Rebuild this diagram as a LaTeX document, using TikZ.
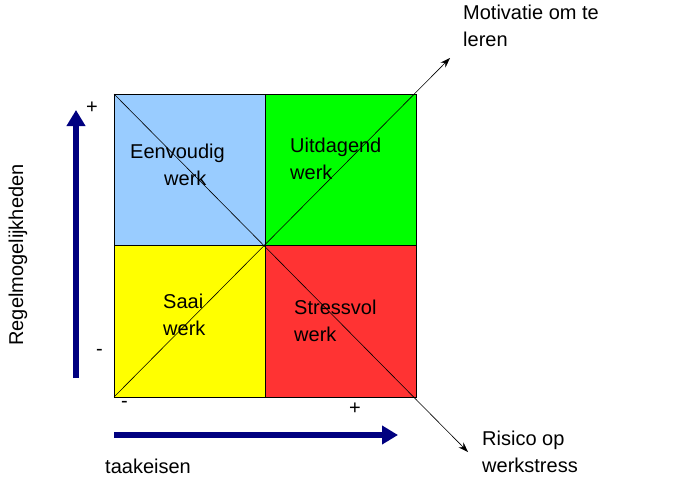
\documentclass[tikz,border=0pt]{standalone}
\usepackage{fontspec}
\setmainfont{Liberation Sans}
\usetikzlibrary{arrows.meta}
\begin{document}
\begin{tikzpicture}[x=1pt,y=-1pt,
  lbl/.style={font=\fontsize{20}{27}\selectfont,align=left,inner sep=0pt,anchor=north west},
  quad/.style={draw=black,line width=0.6pt}]
\useasboundingbox (0,0) rectangle (680,501);
\definecolor{qb}{RGB}{153,204,255}\definecolor{qg}{RGB}{0,255,0}
\definecolor{qy}{RGB}{255,255,0}\definecolor{qr}{RGB}{255,51,51}
\definecolor{navy}{RGB}{0,0,128}
\fill[qb] (114,94) rectangle (265,245);
\fill[qg] (265,94) rectangle (416,245);
\fill[qy] (114,245) rectangle (265,397);
\fill[qr] (265,245) rectangle (416,397);
\draw[quad] (114,94) rectangle (416,397);
\draw[quad] (265,94) -- (265,397) (114,245) -- (416,245);
\coordinate (bl) at (114,397); \coordinate (tr) at (450,58);
\coordinate (tl) at (114,94); \coordinate (br) at (468,452);
\draw[line width=0.6pt,-{Stealth[length=10pt,width=7pt]}] (bl) -- (tr);
\draw[line width=0.6pt,-{Stealth[length=10pt,width=7pt]}] (tl) -- (br);
\coordinate (vb) at (76,378); \coordinate (vt) at (76,110);
\coordinate (hl) at (114,435); \coordinate (hr) at (398,435);
\draw[line width=6pt,draw=navy,-{Triangle[length=16pt,width=18pt]}] (vb) -- (vt);
\draw[line width=6pt,draw=navy,-{Triangle[length=16pt,width=18pt]}] (hl) -- (hr);
\node[lbl] (p1) at (86,102) {+};
\node[lbl] (m1) at (96,349) {-};
\node[lbl] (m2) at (121,401) {-};
\node[lbl] (p2) at (349,403) {+};
\node[font=\fontsize{20}{27}\selectfont,rotate=90,inner sep=0pt] (ry) at (18,255) {Regelmogelijkheden};
\node[lbl] (tx) at (105,459) {taakeisen};
\node[lbl] (mo) at (463,5) {Motivatie om te\\leren};
\node[lbl] (ri) at (482,431) {Risico op\\werkstress};
\node[lbl] (q1) at (130,144) {Eenvoudig\\\hspace*{34pt}werk};
\node[lbl] (q2) at (290,138) {Uitdagend\\werk};
\node[lbl] (q3) at (163,294) {Saai\\werk};
\node[lbl] (q4) at (294,300) {Stressvol\\werk};
\end{tikzpicture}
\end{document}
